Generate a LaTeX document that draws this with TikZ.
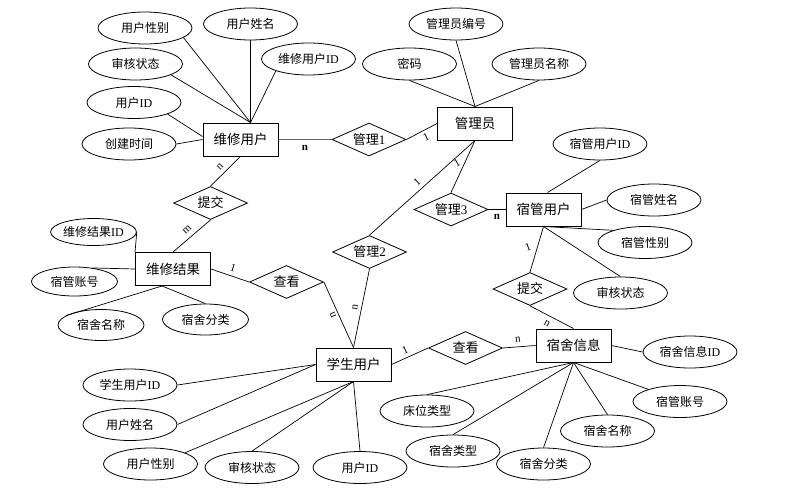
\documentclass[tikz,border=0pt]{standalone}
\usepackage{fontspec}
\setmainfont{Liberation Serif}
\newfontfamily\cjk{Noto Sans CJK SC}
\usetikzlibrary{shapes.geometric,calc}
\begin{document}
\begin{tikzpicture}[x=1pt,y=-1pt,
 ent/.style={draw, line width=1pt, fill=white, minimum width=75pt, minimum height=33pt, inner sep=0pt, font=\fontsize{13.5}{15}\selectfont},
 rel/.style={draw, diamond, shape aspect=2.24, line width=0.8pt, fill=white, minimum width=74pt, minimum height=33pt, inner sep=0pt, font=\fontsize{13}{15}\selectfont},
 att/.style={draw, ellipse, line width=0.8pt, fill=white, minimum width=94pt, minimum height=32pt, inner sep=0pt, font=\fontsize{12}{14}\selectfont},
 satt/.style={att, minimum width=86pt, minimum height=30pt},
 con/.style={line width=0.7pt},
 thickcon/.style={line width=1.8pt, draw=black!60},
 card/.style={font=\fontsize{11}{12}\selectfont, inner sep=0pt},
 bcard/.style={font=\bfseries\fontsize{11}{12}\selectfont, inner sep=0pt}]
\useasboundingbox (0,0) rectangle (795,499);
% entities
\node[ent] (wx) at (240.5,139.5) {{\cjk 维修用户}};
\node[ent] (gl) at (475,123.5) {{\cjk 管理员}};
\node[ent] (sg) at (543.5,209.5) {{\cjk 宿管用户}};
\node[ent] (wj) at (173,269) {{\cjk 维修结果}};
\node[ent] (xs) at (353.5,364.5) {{\cjk 学生用户}};
\node[ent] (ss) at (573.5,345.5) {{\cjk 宿舍信息}};
% relations
\node[rel] (r1) at (369,139.5) {{\cjk 管理}1};
\node[rel] (rs) at (210.5,203) {{\cjk 提交}};
\node[rel] (r3) at (451,209.5) {{\cjk 管理}3};
\node[rel] (r2) at (369.5,252) {{\cjk 管理}2};
\node[rel] (rl) at (286.5,282) {{\cjk 查看}};
\node[rel] (rt) at (530,289) {{\cjk 提交}};
\node[rel] (rc) at (465.5,348) {{\cjk 查看}};
% attributes
\node[att] (e1) at (145,28) {{\cjk 用户性别}};
\node[att] (e2) at (250.5,24) {{\cjk 用户姓名}};
\node[att] (e3) at (135.5,64) {{\cjk 审核状态}};
\node[att] (e4) at (308.5,59) {{\cjk 维修用户}ID};
\node[att] (e5) at (134,102.5) {{\cjk 用户}ID};
\node[att] (e6) at (129,144) {{\cjk 创建时间}};
\node[att] (g1) at (456,24) {{\cjk 管理员编号}};
\node[att] (g2) at (409.5,64) {{\cjk 密码}};
\node[att] (g3) at (539,64) {{\cjk 管理员名称}};
\node[att] (s1) at (600,144) {{\cjk 宿管用户}ID};
\node[att] (s2) at (654,200) {{\cjk 宿管姓名}};
\node[att] (s3) at (645,242.5) {{\cjk 宿管性别}};
\node[att] (s4) at (620.5,293) {{\cjk 审核状态}};
\node[att] (t1) at (690,352) {{\cjk 宿舍信息}ID};
\node[att] (t2) at (427,411) {{\cjk 床位类型}};
\node[att] (t3) at (453,451) {{\cjk 宿舍类型}};
\node[att] (t4) at (543.5,464) {{\cjk 宿舍分类}};
\node[att] (t5) at (607.5,431) {{\cjk 宿舍名称}};
\node[att] (t6) at (680,401.5) {{\cjk 宿管账号}};
\node[att] (x1) at (130,385) {{\cjk 学生用户}ID};
\node[att] (x2) at (130,424.5) {{\cjk 用户姓名}};
\node[att] (x3) at (150.5,464) {{\cjk 用户性别}};
\node[att] (x4) at (252,467.5) {{\cjk 审核状态}};
\node[att] (x5) at (360,467.5) {{\cjk 用户}ID};
\node[satt, minimum width=85pt, minimum height=27pt] (w1) at (93.5,232) {{\cjk 维修结果}ID};
\node[satt, minimum height=29pt] (w2) at (74.5,281.5) {{\cjk 宿管账号}};
\node[satt, minimum height=31pt] (w3) at (101,325) {{\cjk 宿舍名称}};
\node[satt, minimum height=31pt] (w4) at (205.5,319.5) {{\cjk 宿舍分类}};
% attribute connectors
\draw[con] (e1.-14) -- ([xshift=10pt]wx.north);
\draw[con] (e2.south) -- ([xshift=10pt]wx.north);
\draw[con] (e3.-17) -- ([xshift=10pt]wx.north);
\draw[con] (e4.-160) -- ([xshift=10pt]wx.north);
\draw[con] (e5.-19) -- ([yshift=3pt]wx.west);
\draw[con] (e6.east) -- (wx.west);
\draw[con] (g1.south) -- (gl.north);
\draw[con] (g2.south) -- (gl.north);
\draw[con] (g3.south) -- (gl.north);
\draw[con] (s1.south) -- ([xshift=4pt]sg.north);
\draw[con] (s2.west) -- (sg.east);
\draw[con] (s3.159) -- (sg.south);
\draw[con] (s4.north) -- (sg.south);
\draw[con] (t1.west) -- (ss.east);
\draw[con] (t2.north) -- (ss.south);
\draw[con] (t3.north) -- (ss.south);
\draw[con] (t4.north) -- (ss.south);
\draw[con] (t5.north) -- (ss.south);
\draw[con] (t6.159) -- (ss.south);
\draw[con] (x1.east) -- (xs.west);
\draw[con] (x2.east) -- (xs.west);
\draw[con] (x3.18) -- (xs.south);
\draw[con] (x4.north) -- (xs.south);
\draw[con] (x5.north) -- (xs.south);
\draw[con] (w1.east) -- (wj.north west);
\draw[con] (w2.37) -- (wj.west);
\draw[con] (w3.165) -- ([xshift=-11pt]wj.south);
\draw[con] (w4.north) -- ([xshift=-11pt]wj.south);
% relationship connectors
\draw[thickcon] (wx.east) -- (r1.west);
\draw[con] (r1.east) -- (gl.west);
\draw[con] (gl.south) -- (r3.north);
\draw[con] (gl.south) -- (r2.north);
\draw[con] (r3.east) -- (sg.west);
\draw[con] (rs.north) -- (wx.south);
\draw[con] (wj.north) -- (rs.south);
\draw[con] (wj.east) -- (rl.west);
\draw[con] (xs.north) -- (rl.east);
\draw[con] (xs.north) -- (r2.south);
\draw[con] (xs.east) -- (rc.west);
\draw[con] (rc.east) -- (ss.west);
\draw[con] (sg.south) -- (rt.north);
\draw[con] (rt.south) -- (ss.north);
% cardinalities
\node[bcard] (c1) at (305,148) {n};
\node[card, rotate=25] (c2) at (426,137) {1};
\node[card, rotate=45] (c3) at (220,167) {n};
\node[card, rotate=42] (c4) at (187,230) {m};
\node[card, rotate=-18] (c5) at (233,268) {1};
\node[card, rotate=114] (c6) at (333,315) {n};
\node[card, rotate=79] (c7) at (355,307) {n};
\node[card, rotate=42] (c8) at (417,182) {1};
\node[card, rotate=30] (c9) at (457,163) {1};
\node[bcard] (c10) at (497,217) {n};
\node[card, rotate=20] (c11) at (528,247) {1};
\node[card, rotate=-29] (c12) at (547,324) {n};
\node[card, rotate=25] (c13) at (405,350) {1};
\node[card, rotate=5] (c14) at (518,340) {n};
\end{tikzpicture}
\end{document}
